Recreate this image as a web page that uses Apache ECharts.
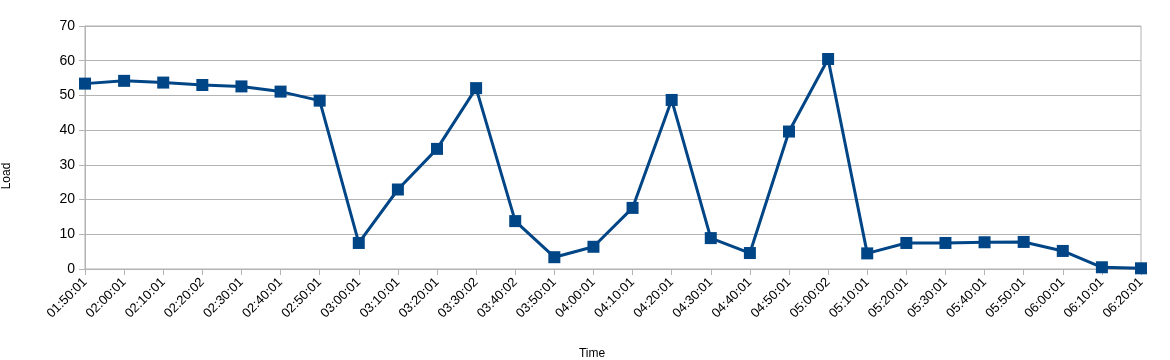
<!DOCTYPE html>
<html><head><meta charset="utf-8">
<script src="https://cdn.jsdelivr.net/npm/echarts@6/dist/echarts.min.js"></script>
<style>html,body{margin:0;padding:0;background:#fff}#c{width:1170px;height:360px}</style>
</head><body><div id="c"></div>
<script>
const categories = ["01:50:01","02:00:01","02:10:01","02:20:02","02:30:01","02:40:01","02:50:01","03:00:01","03:10:01","03:20:01","03:30:02","03:40:02","03:50:01","04:00:01","04:10:01","04:20:01","04:30:01","04:40:01","04:50:01","05:00:02","05:10:01","05:20:01","05:30:01","05:40:01","05:50:01","06:00:01","06:10:01","06:20:01"];
const loadValues = [53.4,54.2,53.7,53.0,52.6,51.1,48.5,7.5,22.9,34.6,52.1,13.8,3.4,6.4,17.6,48.7,8.9,4.6,39.6,60.5,4.5,7.5,7.5,7.7,7.8,5.2,0.5,0.2];
const yTicks = {min:0, max:70, interval:10};

const chart = echarts.init(document.getElementById('c'));
const font = 'Liberation Sans';
chart.setOption({
  animation:false,
  grid:{left:85, right:29, top:26, bottom:91, containLabel:false, outerBoundsMode:'none', show:true, borderColor:'#b3b3b3', borderWidth:1},
  xAxis:{
    type:'category', data:categories, boundaryGap:false,
    name:'Time', nameLocation:'middle', nameGap:79,
    nameTextStyle:{fontFamily:font, fontSize:12, color:'#000', padding:[0,42,0,0]},
    axisLine:{lineStyle:{color:'#b3b3b3'}},
    axisTick:{show:true, length:6, alignWithLabel:true, lineStyle:{color:'#b3b3b3'}},
    axisLabel:{rotate:45, interval:0, fontFamily:font, fontSize:13, color:'#000', margin:11},
    splitLine:{show:false}
  },
  yAxis:{
    type:'value', min:yTicks.min, max:yTicks.max, interval:yTicks.interval,
    name:'Load', nameLocation:'middle', nameGap:72, nameRotate:90,
    nameTextStyle:{fontFamily:font, fontSize:12, color:'#000', padding:[0,57,0,0]},
    axisLine:{show:true, lineStyle:{color:'#b3b3b3'}},
    axisTick:{show:true, length:6, lineStyle:{color:'#b3b3b3'}},
    axisLabel:{fontFamily:font, fontSize:14, color:'#000', margin:10},
    splitLine:{show:true, lineStyle:{color:'#b3b3b3', width:1}}
  },
  series:[{
    type:'line', data:loadValues,
    symbol:'rect', symbolSize:12,
    lineStyle:{color:'#004586', width:3},
    itemStyle:{color:'#004586'}
  }]
});
</script></body></html>
